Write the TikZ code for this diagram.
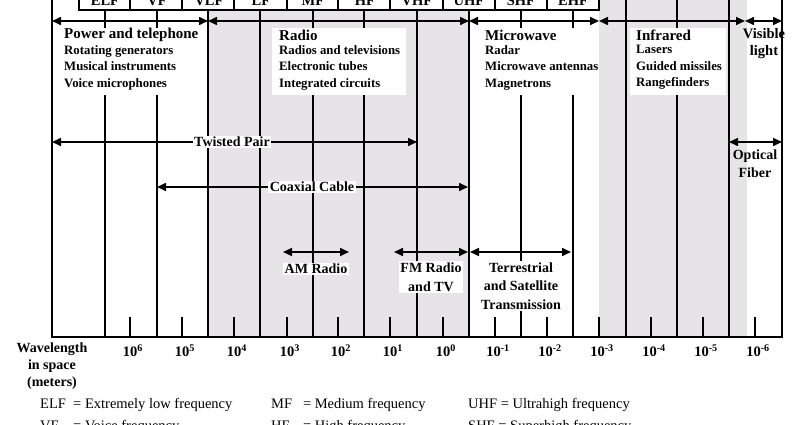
\documentclass[tikz,border=0pt]{standalone}
\usepackage{fontspec}
\setmainfont{Liberation Serif}
\usetikzlibrary{arrows.meta}
\definecolor{band}{HTML}{E6E4E7}
\tikzset{
  x=1pt,y=-1pt,
  rule/.style={line width=1.8pt},
  tickl/.style={line width=1.6pt},
  tip/.style={-{Triangle[length=9pt,width=8pt]}},
  dbl/.style={line width=1.6pt,{Triangle[length=9pt,width=8pt]}-{Triangle[length=9pt,width=8pt]}},
  one/.style={line width=1.6pt,tip},
  head/.style={font=\fontsize{15}{17}\selectfont\bfseries,inner sep=0pt},
  sub/.style={font=\fontsize{12.8}{16.5}\selectfont\bfseries,inner sep=0pt},
  lbl/.style={font=\fontsize{14}{18.5}\selectfont\bfseries,fill=white,inner sep=1.5pt,align=center},
  wbox/.style={fill=white,draw=none},
  leg/.style={font=\fontsize{14.5}{16}\selectfont,anchor=west,inner sep=0pt},
  expo/.style={font=\fontsize{14.5}{16}\selectfont\bfseries,inner sep=0pt}
}
\begin{document}
\begin{tikzpicture}
\useasboundingbox (0,0) rectangle (809,425);
\clip (0,0) rectangle (809,425);
% bands
\fill[band] (208,0) rectangle (469,337);
\fill[band] (599,0) rectangle (747,337);
% long lines
\foreach \x in {52,105,157,208,260,313,364,417,469,521,573,626,677,729,782}
  \draw[rule] (\x,-5) -- (\x,337);
% white text backgrounds over lines
\fill[wbox] (58,28) rectangle (205,95);
\fill[wbox] (272,28) rectangle (406,95);
\fill[wbox] (482,28) rectangle (597,95);
\fill[wbox] (630,28) rectangle (726,95);
\fill[wbox] (747,28) rectangle (780,68);
% short ticks
\foreach \x in {130,182,234,287,338,390,443,495,547,599,651,703,755}
  \draw[tickl] (\x,317) -- (\x,337);
\draw[rule] (51,337) -- (783,337);
% band box row
\draw[line width=1.2pt,fill=white] (79,-10) rectangle (599,10);
\foreach \x in {130,182,234,287,338,390,443,495,547}
  \draw[line width=1.2pt] (\x,-10) -- (\x,10);
\foreach \x/\t [count=\i] in {105/ELF,157/VF,209/VLF,261/LF,313/MF,365/HF,417/VHF,469/UHF,521/SHF,573/EHF}
  \node[expo] (b\i) at (\x,1) {\t};
% top arrows
\coordinate (t0) at (52,21); \coordinate (t1) at (208,21); \coordinate (t2) at (469,21);
\coordinate (t3) at (599,21); \coordinate (t4) at (745,21); \coordinate (t5) at (782,21);
\draw[dbl] (t0) -- (t1);
\draw[dbl] (t1) -- (t2);
\draw[dbl] (t2) -- (t3);
\draw[dbl] (t3) -- (t4);
\draw[dbl] (t4) -- (t5);
% region texts
\node[head,anchor=west] (pw) at (64,35) {Power and telephone};
\node[sub,anchor=north west,align=left] (pwl) at (64,45) {Rotating generators\\Musical instruments\\Voice microphones};
\node[head,anchor=west] (rd) at (279,35) {Radio};
\node[sub,anchor=north west,align=left] (rdl) at (279,45) {Radios and televisions\\Electronic tubes\\Integrated circuits};
\node[head,anchor=west] (mw) at (485,35) {Microwave};
\node[sub,anchor=north west,align=left] (mwl) at (485,45) {Radar\\Microwave antennas\\Magnetrons};
\node[head,anchor=west] (ir) at (636,35) {Infrared};
\node[sub,anchor=north west,align=left] (irl) at (636,45) {Lasers\\Guided missiles\\Rangefinders};
\node[head,align=center,font=\fontsize{14.5}{17}\selectfont\bfseries] (vl) at (764,44) {Visible\\light};
% media
\node[lbl] (tp) at (232,142) {Twisted Pair};
\coordinate (tpa) at (52,142); \coordinate (tpb) at (417,142);
\draw[one] (tp.west) -- (tpa);
\draw[one] (tp.east) -- (tpb);
\node[lbl] (cc) at (312,187) {Coaxial Cable};
\coordinate (cca) at (157,187); \coordinate (ccb) at (468,187);
\draw[one] (cc.west) -- (cca);
\draw[one] (cc.east) -- (ccb);
\coordinate (of1) at (729,142); \coordinate (of2) at (782,142);
\draw[dbl] (of1) -- (of2);
\node[font=\fontsize{14}{18}\selectfont\bfseries,align=center,inner sep=0pt] (of) at (755,164) {Optical\\Fiber};
\coordinate (am1) at (283,252); \coordinate (am2) at (349,252);
\draw[dbl] (am1) -- (am2);
\node[lbl] (am) at (316,269) {AM Radio};
\coordinate (fm1) at (394,252); \coordinate (fm2) at (468,252);
\draw[dbl] (fm1) -- (fm2);
\node[lbl] (fm) at (431,277) {FM Radio\\and TV};
\coordinate (ts1) at (470,252); \coordinate (ts2) at (571,252);
\draw[dbl] (ts1) -- (ts2);
\node[lbl] (ts) at (521,286) {Terrestrial\\and Satellite\\Transmission};
% axis labels
\node[expo,align=center,font=\fontsize{14}{17}\selectfont\bfseries] (wl) at (52,366) {Wavelength\\in space\\(meters)};
\foreach \x/\e [count=\i] in {130/6,182/5,234/4,287/3,338/2,390/1,443/0,495/-1,547/-2,599/-3,651/-4,703/-5,755/-6}
  \node[expo] (e\i) at (\x+3,351) {10\textsuperscript{\e}};
% legend
\node[leg] (l1) at (40,405) {ELF\enspace= Extremely low frequency};
\node[leg] (l2) at (271,405) {MF\enspace\ = Medium frequency};
\node[leg] (l3) at (468,405) {UHF = Ultrahigh frequency};
\node[leg] (l4) at (40,427) {VF\enspace\ \ = Voice frequency};
\node[leg] (l5) at (271,427) {HF\enspace\ \,= High frequency};
\node[leg] (l6) at (468,427) {SHF = Superhigh frequency};
\end{tikzpicture}
\end{document}
